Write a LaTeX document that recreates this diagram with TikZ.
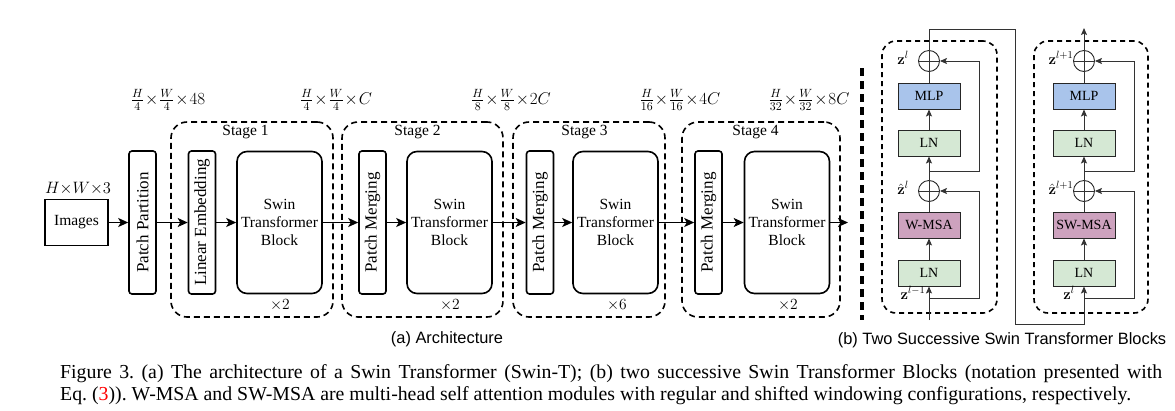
\RequirePackage{fix-cm}
\documentclass[tikz,border=0pt]{standalone}
\usepackage{fontspec}
\setmainfont{Liberation Serif}
\setsansfont{Liberation Sans}
\usetikzlibrary{arrows.meta}
\DeclareMathAlphabet{\mathbfcm}{OT1}{cmr}{bx}{n}
\newcommand{\tx}{\mkern1mu{\times}\mkern1mu}
\definecolor{mlpblue}{HTML}{A9C4EB}
\definecolor{lngreen}{HTML}{D5E8D4}
\definecolor{msapink}{HTML}{CDA2BE}
\begin{document}
\frenchspacing
\begin{tikzpicture}[x=1pt,y=-1pt,
  thickbox/.style={draw, line width=1.6pt, rounded corners=3pt, inner sep=0pt},
  narrowbox/.style={thickbox, rotate=90, minimum width=143pt, minimum height=27pt, font=\fontsize{17}{20}\selectfont},
  stbbox/.style={draw, line width=1.6pt, rounded corners=10pt, minimum width=85pt, minimum height=142pt, align=center, inner sep=0pt, font=\fontsize{15.5}{18}\selectfont},
  stagebox/.style={draw, line width=1.6pt, dash pattern=on 6pt off 4pt, rounded corners=16pt, minimum height=195pt, inner sep=0pt},
  bigarr/.style={line width=1.6pt, -{Stealth[length=10pt,width=9pt,inset=2.5pt]}},
  lbl/.style={font=\fontsize{15.5}{18}\selectfont, inner sep=0pt},
  dimlbl/.style={font=\fontsize{17}{20}\selectfont, inner sep=0pt},
  thinln/.style={line width=0.9pt, draw=black!80},
  tarr/.style={thinln, -{Stealth[length=7pt,width=6pt,inset=1.4pt]}},
  rbox/.style={draw=black!85, line width=0.9pt, minimum width=62pt, minimum height=26pt, inner sep=0pt, font=\fontsize{14}{16}\selectfont},
  addop/.style={circle, draw=black!85, line width=0.9pt, minimum size=21pt, inner sep=0pt},
  rstage/.style={draw, line width=1.6pt, dash pattern=on 5pt off 4pt, rounded corners=14pt, minimum width=115pt, minimum height=272pt, inner sep=0pt},
  zlbl/.style={font=\fontsize{15}{17}\selectfont, inner sep=0pt},
  sanslbl/.style={font=\sffamily\fontsize{16.4}{19}\selectfont, inner sep=0pt},
  captxt/.style={anchor=base west, inner sep=0pt, font=\fontsize{19.8}{23}\selectfont}
]
\useasboundingbox (0,0) rectangle (1175,410);

% ---------- (a) Architecture ----------
\node[lbl] (hw3) at (78,189) {\fontsize{16.5}{18}\selectfont$H{\times}W{\times}3$};
\node[draw, line width=1.6pt, minimum width=63pt, minimum height=46pt, inner sep=0pt, font=\fontsize{15.5}{18}\selectfont] (img) at (76.5,222.5) {Images};
\node[narrowbox] (pp) at (142.5,222.5) {Patch Partition};

% stage boxes
\node[stagebox, minimum width=162pt] (s1) at (252,219.5) {};
\node[stagebox, minimum width=161pt] (s2) at (422.5,219.5) {};
\node[stagebox, minimum width=152pt] (s3) at (589,219.5) {};
\node[stagebox, minimum width=158pt] (s4) at (761,219.5) {};

\node[lbl] (s1t) at (245.5,132) {Stage 1};
\node[lbl] (s2t) at (417.5,132) {Stage 2};
\node[lbl] (s3t) at (584.5,132) {Stage 3};
\node[lbl] (s4t) at (755.5,132) {Stage 4};

\node[narrowbox] (le) at (202,222.5) {Linear Embedding};
\node[stbbox] (t1) at (279.5,222.5) {Swin\\Transformer\\Block};
\node[narrowbox] (pm2) at (372.5,222.5) {Patch Merging};
\node[stbbox] (t2) at (449.5,222.5) {Swin\\Transformer\\Block};
\node[narrowbox] (pm3) at (540,222.5) {Patch Merging};
\node[stbbox] (t3) at (615.5,222.5) {Swin\\Transformer\\Block};
\node[narrowbox] (pm4) at (708.5,222.5) {Patch Merging};
\node[stbbox] (t4) at (787,222.5) {Swin\\Transformer\\Block};

\node[lbl] (x1) at (280,305) {$\times2$};
\node[lbl] (x2) at (450,305) {$\times2$};
\node[lbl] (x3) at (617,305) {$\times6$};
\node[lbl] (x4) at (788,305) {$\times2$};

\node[dimlbl] (d0) at (168,100) {$\frac{H}{4}\tx\frac{W}{4}\tx48$};
\node[dimlbl] (d1) at (336,100) {$\frac{H}{4}\tx\frac{W}{4}\tx C$};
\node[dimlbl] (d2) at (511,100) {$\frac{H}{8}\tx\frac{W}{8}\tx 2C$};
\node[dimlbl] (d3) at (680,100) {$\frac{H}{16}\tx\frac{W}{16}\tx 4C$};
\node[dimlbl] (d4) at (809,100) {$\frac{H}{32}\tx\frac{W}{32}\tx 8C$};

\coordinate (out) at (848,222.5);
\draw[bigarr] (img) -- (pp);
\draw[bigarr] (pp) -- (le);
\draw[bigarr] (le) -- (t1);
\draw[bigarr] (t1) -- (pm2);
\draw[bigarr] (pm2) -- (t2);
\draw[bigarr] (t2) -- (pm3);
\draw[bigarr] (pm3) -- (t3);
\draw[bigarr] (t3) -- (pm4);
\draw[bigarr] (pm4) -- (t4);
\draw[bigarr] (t4) -- (out);

\node[sanslbl] (capa) at (447,339) {(a) Architecture};

% separator
\draw[line width=3.5pt, dash pattern=on 8pt off 5pt] (862,68) -- (862,320);

% ---------- (b) Two successive blocks ----------
\node[rstage] (r1) at (939.5,177) {};
\node[rstage, minimum width=114pt] (r2) at (1091,177) {};

% block 1
\node[rbox, fill=lngreen] (b1ln1) at (929,273) {LN};
\node[rbox, fill=msapink] (b1msa) at (929,225) {W-MSA};
\node[addop] (b1a1) at (929,191) {};
\node[rbox, fill=lngreen] (b1ln2) at (929,143) {LN};
\node[rbox, fill=mlpblue] (b1mlp) at (929,96) {MLP};
\node[addop] (b1a2) at (929,61) {};
\draw[thinln] (b1a1.north) -- (b1a1.south) (b1a1.west) -- (b1a1.east);
\draw[thinln] (b1a2.north) -- (b1a2.south) (b1a2.west) -- (b1a2.east);
\node[zlbl] (b1z0) at (913,293) {$\mathbfcm{z}^{l-1}$};
\node[zlbl] (b1zh) at (903,188) {$\hat{\mathbfcm{z}}^{l}$};
\node[zlbl] (b1z1) at (903,58) {$\mathbfcm{z}^{l}$};

\coordinate (b1in) at (929,320);
\coordinate (b1r1) at (929,298);
\coordinate (b1r2) at (929,171);
\draw[tarr] (b1in) -- (b1ln1);
\draw[tarr] (b1ln1) -- (b1msa);
\draw[thinln] (b1msa) -- (b1a1);
\draw[tarr] (b1a1) -- (b1ln2);
\draw[tarr] (b1ln2) -- (b1mlp);
\draw[thinln] (b1mlp) -- (b1a2);
\draw[tarr] (b1r1) -- (979,298) |- (b1a1.east);
\draw[tarr] (b1r2) -- (979,171) |- (b1a2.east);

% block 2
\node[rbox, fill=lngreen] (b2ln1) at (1084,273) {LN};
\node[rbox, fill=msapink] (b2msa) at (1084,225) {SW-MSA};
\node[addop] (b2a1) at (1084,191) {};
\node[rbox, fill=lngreen] (b2ln2) at (1084,143) {LN};
\node[rbox, fill=mlpblue] (b2mlp) at (1084,96) {MLP};
\node[addop] (b2a2) at (1084,61) {};
\draw[thinln] (b2a1.north) -- (b2a1.south) (b2a1.west) -- (b2a1.east);
\draw[thinln] (b2a2.north) -- (b2a2.south) (b2a2.west) -- (b2a2.east);
\node[zlbl] (b2z0) at (1069,293) {$\mathbfcm{z}^{l}$};
\node[zlbl] (b2zh) at (1061,188) {$\hat{\mathbfcm{z}}^{l+1}$};
\node[zlbl] (b2z1) at (1061,58) {$\mathbfcm{z}^{l+1}$};

\coordinate (b1top) at (929,29);
\coordinate (c1) at (1015,29);
\coordinate (c2) at (1015,324);
\coordinate (b2in) at (1084,324);
\coordinate (b2r1) at (1084,298);
\coordinate (b2r2) at (1084,171);
\coordinate (b2out) at (1084,28);
\draw[tarr] (b1a2) -- (b1top) -- (c1) -- (c2) -- (b2in) -- (b2ln1);
\draw[tarr] (b2ln1) -- (b2msa);
\draw[thinln] (b2msa) -- (b2a1);
\draw[tarr] (b2a1) -- (b2ln2);
\draw[tarr] (b2ln2) -- (b2mlp);
\draw[thinln] (b2mlp) -- (b2a2);
\draw[tarr] (b2a2) -- (b2out);
\draw[tarr] (b2r1) -- (1134,298) |- (b2a1.east);
\draw[tarr] (b2r2) -- (1134,171) |- (b2a2.east);

\node[sanslbl] (capb) at (1002,340) {(b) Two Successive Swin Transformer Blocks};

% ---------- figure caption ----------
\node[captxt] (cap1) at (60,378)
  {\makebox[1102pt][s]{Figure 3. (a) The architecture of a Swin Transformer (Swin-T); (b) two successive Swin Transformer Blocks (notation presented with}};
\node[captxt] (cap2) at (60,400)
  {Eq. (\textcolor{red}{3})). W-MSA and SW-MSA are multi-head self attention modules with regular and shifted windowing configurations, respectively.};
\end{tikzpicture}
\end{document}
